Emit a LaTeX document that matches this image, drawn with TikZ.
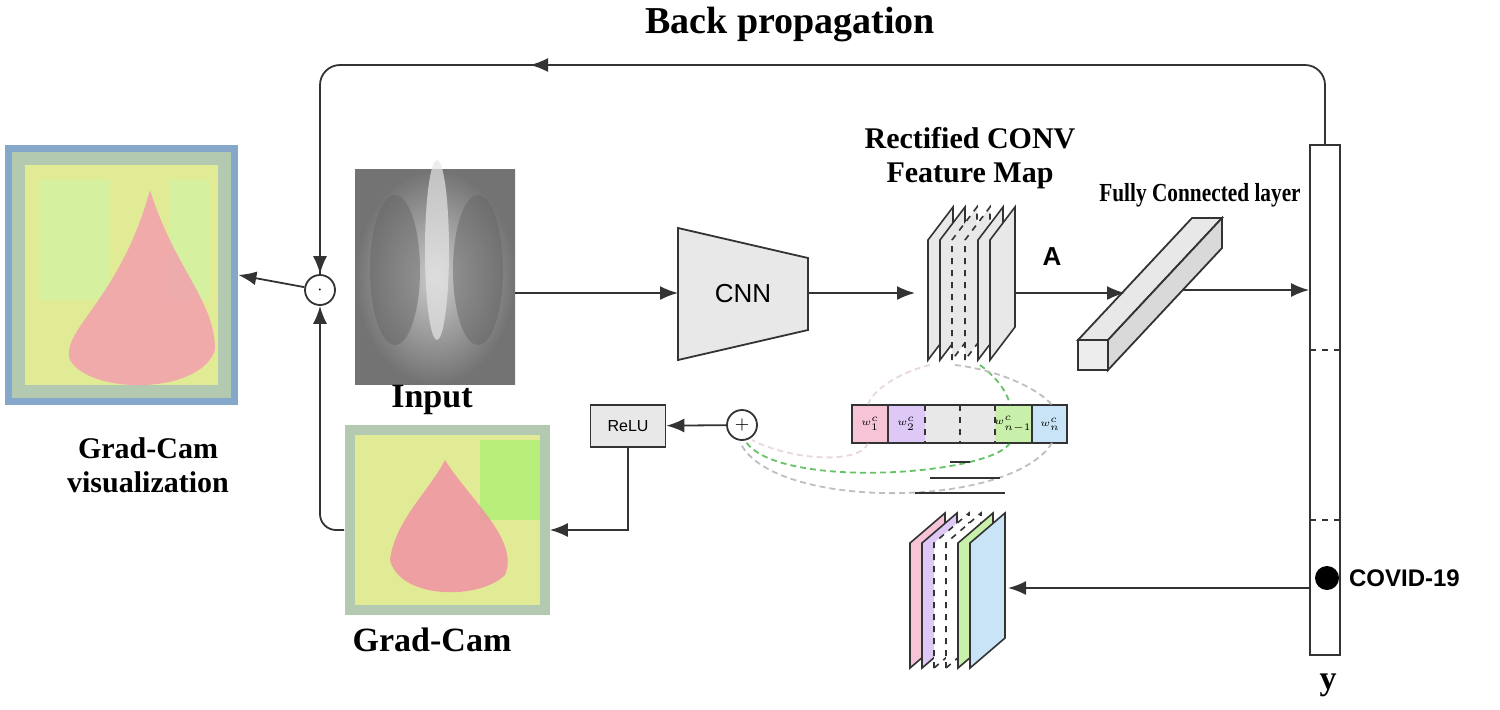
\documentclass[tikz,border=0pt]{standalone}
\usepackage{fontspec}
\setmainfont{Liberation Serif}
\newfontfamily\sansf{Liberation Sans}
\usetikzlibrary{arrows.meta,calc}
\definecolor{sheet}{RGB}{232,232,232}
\definecolor{wpink}{RGB}{246,196,214}
\definecolor{wpurple}{RGB}{222,200,246}
\definecolor{wgreen}{RGB}{200,240,170}
\definecolor{wblue}{RGB}{200,228,246}
\definecolor{hblue}{RGB}{110,150,215}
\definecolor{hyel}{RGB}{225,235,150}
\definecolor{hred}{RGB}{240,120,150}
\begin{document}
\begin{tikzpicture}[x=0.5pt,y=-0.5pt,
  line/.style={draw=black!80,line width=0.9pt},
  arr/.style={line,-{Latex[length=9pt,width=7pt]}},
  lbl/.style={font=\bfseries\fontsize{15}{17}\selectfont,align=center},
  sheetst/.style={draw=black!80,line width=0.8pt,fill=sheet},
  wl/.style={font=\fontsize{5}{5}\selectfont,inner sep=0},
  dot/.style={densely dashed,line width=0.9pt}]
\useasboundingbox (0,0) rectangle (1500,709);
% left heatmap
\node[inner sep=0,minimum width=233*0.5pt,minimum height=260*0.5pt,fill=hblue!80!hyel] (viz) at (121.5,275) {};
\fill[hblue!40!hyel] (12,152) rectangle (231,398);
\fill[hyel] (25,165) rectangle (218,385);
\fill[hyel!60!green!50!white,opacity=0.4] (40,180) rectangle (110,300);
\fill[hyel!60!green!50!white,opacity=0.4] (170,180) rectangle (210,300);
\fill[hred!75,opacity=0.8] (150,190) .. controls (175,270) and (215,300) .. (215,350) .. controls (200,395) and (90,395) .. (70,360) .. controls (60,330) and (120,300) .. (150,190);
\node[lbl] (vizl) at (148,465) {Grad-Cam\\visualization};
% odot
\node[draw=black!80,line width=0.9pt,circle,minimum size=30*0.5pt,inner sep=0] (od) at (320,290) {\fontsize{9}{9}\selectfont$\cdot$};
\draw[arr] (od) -- (viz.east);
% xray
\node[inner sep=0,minimum width=160*0.5pt,minimum height=215*0.5pt,inner color=black!20,outer color=black!55] (xr) at (435,277) {};
\fill[black!60,opacity=0.5] (395,270) ellipse (25 and 75);
\fill[black!60,opacity=0.5] (478,270) ellipse (25 and 75);
\fill[black!10,opacity=0.7] (437,250) ellipse (12 and 90);
\node[lbl,font=\bfseries\fontsize{17}{19}\selectfont] (inl) at (432,400) {Input};
% CNN
\draw[line,fill=sheet] (678,228) -- (808,258) -- (808,330) -- (678,360) -- cycle;
\node[font=\sansf\fontsize{13}{15}\selectfont] (cnn) at (743,294) {CNN};
\coordinate (cnnL) at (678,293); \coordinate (cnnR) at (808,293);
\draw[arr] (xr.east |- cnnL) -- (cnnL);
% feature stack
\foreach \x/\s in {928/solid,940/solid,952/dashed,965/dashed,978/solid,990/solid}{
  \draw[sheetst,\s] (\x,360) -- (\x,240) -- (\x+25,207) -- (\x+25,327) -- cycle;}
\coordinate (fmL) at (915,293); \coordinate (fmR) at (1015,293);
\draw[arr] (cnnR) -- (fmL);
\node[lbl] (fml) at (970,158) {Rectified CONV\\Feature Map};
\node[font=\sansf\bfseries\fontsize{13}{15}\selectfont] (A) at (1052,257) {A};
% FC
\draw[line] (1180,290) -- (1215,290);
\draw[line,fill=sheet] (1078,340) -- (1108,340) -- (1222,218) -- (1192,218) -- cycle;
\draw[line,fill=sheet!80] (1078,340) -- (1078,370) -- (1108,370) -- (1108,340) -- cycle;
\draw[line,fill=black!15] (1108,370) -- (1222,248) -- (1222,218) -- (1108,340) -- cycle;
\coordinate (fcL) at (1125,293);
\draw[arr] (fmR) -- (fcL);
\node[font=\bfseries\fontsize{13}{15}\selectfont,xscale=0.82] (fcl) at (1200,195) {Fully Connected layer};
% y vector
\node[draw=black!80,line width=0.9pt,minimum width=30*0.5pt,minimum height=510*0.5pt,inner sep=0] (yv) at (1325,400) {};
\draw[line,dashed] (1310,350) -- (1340,350);
\draw[line,dashed] (1310,520) -- (1340,520);
\draw[arr] (1215,290) -- (yv.west |- 0,290);
\fill (1327,578) circle (12);
\node[font=\sansf\bfseries\fontsize{12}{14}\selectfont,anchor=west] (cov) at (1342,578) {COVID-19};
\node[font=\bfseries\fontsize{17}{19}\selectfont] (yl) at (1328,685) {y};
% back propagation
\draw[line,rounded corners=10pt] (yv.north) -- (1325,65) -- (320,65) -- (od.north);
\draw[arr] (320,250) -- (od.north);
\draw[arr] (700,65) -- (530,65);
\node[font=\bfseries\fontsize{19}{21}\selectfont] (bp) at (790,25) {Back propagation};
% weights
\fill[wpink] (852,405) rectangle (888,443);
\fill[wpurple] (888,405) rectangle (925,443);
\fill[sheet] (925,405) rectangle (995,443);
\fill[wgreen] (995,405) rectangle (1032,443);
\fill[wblue] (1032,405) rectangle (1067,443);
\draw[line] (852,405) rectangle (1067,443);
\draw[line] (888,405) -- (888,443) (1032,405) -- (1032,443);
\draw[line,dashed] (925,405) -- (925,443) (960,405) -- (960,443) (995,405) -- (995,443);
\node[wl] at (870,424) {$w_1^c$};
\node[wl] at (906,424) {$w_2^c$};
\node[wl] at (1013,424) {$w_{n-1}^c$};
\node[wl] at (1050,424) {$w_n^c$};
\node[draw=black!80,line width=0.9pt,circle,minimum size=30*0.5pt,inner sep=0,font=\fontsize{9}{9}\selectfont] (pl) at (742,425) {$+$};
\node[draw=black!80,line width=0.9pt,fill=sheet,minimum width=75*0.5pt,minimum height=42*0.5pt,inner sep=0,font=\sansf\fontsize{8}{9}\selectfont] (relu) at (628,426) {ReLU};
\draw[arr] (pl) -- (relu);
% dotted connections
\draw[dot,wpink!80!black,opacity=0.4] (930,365) .. controls (900,372) and (872,390) .. (868,405);
\draw[dot,green!60!black,opacity=0.6] (980,365) .. controls (1000,380) and (1008,395) .. (1010,405);
\draw[dot,black!25] (955,365) .. controls (1000,370) and (1040,390) .. (1052,405);
\draw[dot,wpink!80!black,opacity=0.4] (868,443) .. controls (860,465) and (790,460) .. (752,440);
\draw[dot,green!60!black,opacity=0.6] (1010,443) .. controls (990,475) and (780,490) .. (746,442);
\draw[dot,black!25] (1052,443) .. controls (1010,510) and (770,510) .. (740,442);
% fraction bars
\draw[line] (950,462) -- (970,462);
\draw[line] (930,478) -- (1000,478);
\draw[line] (915,493) -- (1005,493);
% bottom stack
\foreach \x/\c/\s in {910/wpink/solid,922/wpurple/solid,934/white/dashed,946/white/dashed,958/wgreen/solid,970/wblue/solid}{
  \draw[sheetst,fill=\c,\s] (\x,668) -- (\x,543) -- (\x+35,513) -- (\x+35,638) -- cycle;}
\draw[arr] (yv.west |- 0,588) -- (1008,588);
% grad-cam
\node[inner sep=0,minimum width=205*0.5pt,minimum height=190*0.5pt,fill=hblue!40!hyel] (gc) at (447,520) {};
\fill[hyel] (355,435) rectangle (540,605);
\fill[green!40!hyel,opacity=0.45] (480,440) rectangle (540,520);
\fill[hred!85,opacity=0.8] (445,460) .. controls (470,500) and (520,540) .. (505,575) .. controls (480,600) and (400,600) .. (390,560) .. controls (395,520) and (430,490) .. (445,460);
\node[lbl,font=\bfseries\fontsize{17}{19}\selectfont] (gcl) at (432,640) {Grad-Cam};
\draw[arr] (relu.south) |- (gc.east |- 0,530);
\draw[arr,rounded corners=8pt] (gc.west |- 0,530) -| (od.south);
\end{tikzpicture}
\end{document}
